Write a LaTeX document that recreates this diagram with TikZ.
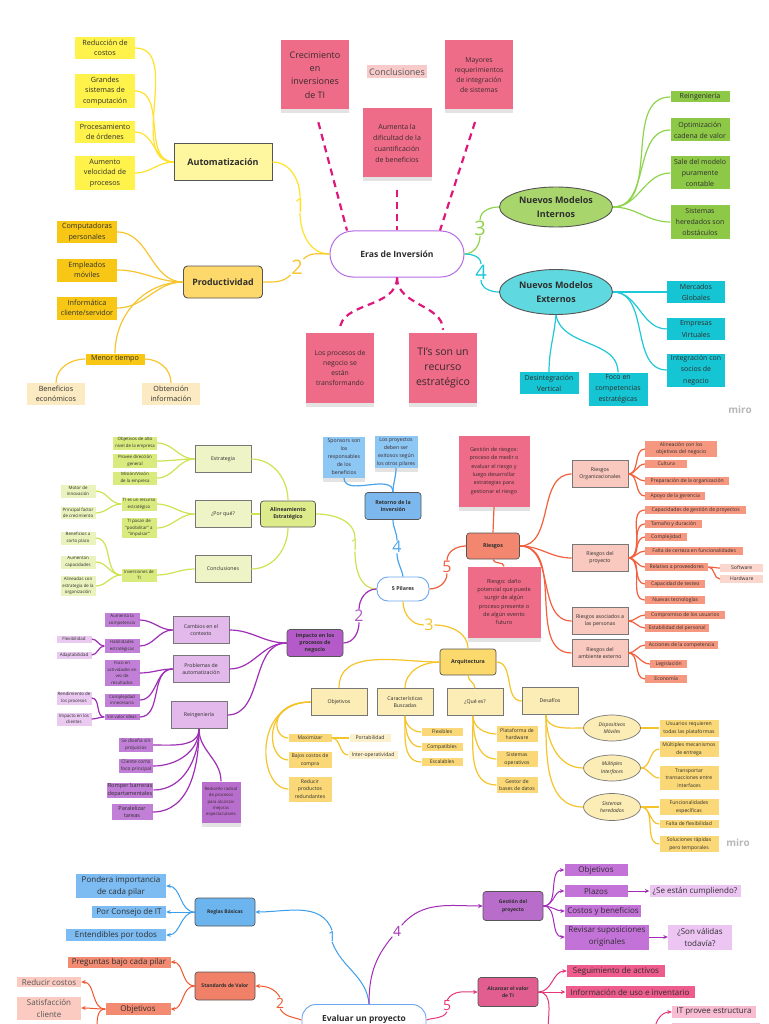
\documentclass[tikz,border=0pt]{standalone}
\usepackage{fontspec}
\setmainfont{Open Sans}
\usetikzlibrary{calc,shapes.geometric,arrows.meta,shadows}
\newcommand\fz[2]{\fontsize{#1}{#2}\selectfont}
\definecolor{txt}{HTML}{2E2E2E}
\definecolor{stxt}{HTML}{3A2A2E}
\definecolor{bord}{HTML}{555555}
\definecolor{Ylf}{HTML}{FFF24A}
\definecolor{Yhub}{HTML}{FFF7A0}
\definecolor{Yln}{HTML}{FFE22A}
\definecolor{Olf}{HTML}{F8C715}
\definecolor{Ohub}{HTML}{FDD86B}
\definecolor{Olt}{HTML}{FCEBC2}
\definecolor{Oln}{HTML}{F7C530}
\definecolor{Stk}{HTML}{EE6C87}
\definecolor{Dsh}{HTML}{E0177A}
\definecolor{Erab}{HTML}{B66CE6}
\definecolor{Ghub}{HTML}{A9D66C}
\definecolor{Glf}{HTML}{8DC847}
\definecolor{Gln}{HTML}{8ED44C}
\definecolor{Chub}{HTML}{5FD8DF}
\definecolor{Clf}{HTML}{16C5D3}
\definecolor{Cln}{HTML}{1EC8D6}
\definecolor{Conc}{HTML}{F9CACA}
\definecolor{Lhub}{HTML}{DDEB8B}
\definecolor{Lcat}{HTML}{EEF4C6}
\definecolor{Llf}{HTML}{D9EA7E}
\definecolor{Llt}{HTML}{EAF3BD}
\definecolor{Lln}{HTML}{CFE250}
\definecolor{Bhub}{HTML}{7CB8EE}
\definecolor{Bstk}{HTML}{8DC7F4}
\definecolor{Bln}{HTML}{49A4EE}
\definecolor{Pil}{HTML}{6BA6F0}
\definecolor{Shub}{HTML}{F2866E}
\definecolor{Scat}{HTML}{F9C8BE}
\definecolor{Slf}{HTML}{F69880}
\definecolor{Slt}{HTML}{FBD6CD}
\definecolor{Sln}{HTML}{F2603F}
\definecolor{Vhub}{HTML}{B55BC9}
\definecolor{Vcat}{HTML}{E2B9EA}
\definecolor{Vlf}{HTML}{C27FD7}
\definecolor{Vlt}{HTML}{EBCAF1}
\definecolor{Vln}{HTML}{9E2FB6}
\definecolor{Vstk}{HTML}{B86ECD}
\definecolor{Ahub}{HTML}{FBD96C}
\definecolor{Acat}{HTML}{FCECB5}
\definecolor{Alf}{HTML}{FAD877}
\definecolor{Alt}{HTML}{FDF0CC}
\definecolor{Aln}{HTML}{F5C42A}
\definecolor{Rhub}{HTML}{6BB4EE}
\definecolor{Rlf}{HTML}{7DBCF2}
\definecolor{Rln}{HTML}{3C9DEB}
\definecolor{Thub}{HTML}{F08068}
\definecolor{Tlf}{HTML}{F38B72}
\definecolor{Tlt}{HTML}{FBCBC1}
\definecolor{Tln}{HTML}{F0572E}
\definecolor{Mhub}{HTML}{B86DCB}
\definecolor{Mlf}{HTML}{C372D8}
\definecolor{Mlt}{HTML}{ECC5F3}
\definecolor{Mln}{HTML}{A22BB8}
\definecolor{Khub}{HTML}{E25E90}
\definecolor{Klf}{HTML}{EE5C8E}
\definecolor{Klt}{HTML}{F8BCD3}
\definecolor{Kln}{HTML}{E5357A}
\begin{document}
\begin{tikzpicture}[x=1pt,y=-1pt,
  every node/.style={align=center, inner sep=1pt, text=txt},
  sq/.style={rectangle, fill=#1},
  hub/.style={rectangle, rounded corners=3pt, draw=bord, line width=.7pt, fill=#1, font=\bfseries\fz{5.3}{6.8}},
  cat/.style={rectangle, draw=bord!80, line width=.6pt, fill=#1, minimum width=56, minimum height=27, font=\fz{5.2}{6.8}},
  lnk/.style={draw=#1, line width=1.2pt},
  alnk/.style={draw=#1, line width=1pt, -{Stealth[length=4.5pt,width=4pt]}},
  num/.style={text=#1, inner sep=0.5pt},
  sticky/.style={rectangle, fill=#1, text=stxt, drop shadow={opacity=0.22, shadow xshift=0pt, shadow yshift=-4pt}},
  dsh/.style={draw=Dsh, line width=2.2pt, dash pattern=on 7pt off 5pt},
]
\useasboundingbox (0,0) rectangle (768,1024);
\clip (0,0) rectangle (768,1024);
\fill[white] (0,0) rectangle (768,1024);

%% ================= Section 1
\node[rectangle, draw=bord, line width=.9pt, fill=Yhub, minimum width=98, minimum height=37, font=\bfseries\fz{9}{11}] (auto) at (223,162) {Automatización};
\node[rectangle, rounded corners=4pt, draw=bord, line width=.9pt, fill=Ohub, minimum width=79, minimum height=32, font=\bfseries\fz{8.8}{11}] (prod) at (223,282) {Productividad};
\node[rectangle, rounded corners=23pt, draw=Erab, line width=1pt, fill=white, minimum width=134, minimum height=46, font=\bfseries\fz{8.6}{11}] (eras) at (397,254) {Eras de Inversión};
\node[ellipse, draw=bord, line width=.9pt, fill=Ghub, minimum width=113, minimum height=40, inner sep=0pt, font=\bfseries\fz{9}{13.5}] (nmi) at (556,207) {Nuevos Modelos\\Internos};
\node[ellipse, draw=bord, line width=.9pt, fill=Chub, minimum width=113, minimum height=45, inner sep=0pt, font=\bfseries\fz{9}{13.5}] (nme) at (556,292) {Nuevos Modelos\\Externos};

\begin{scope}[every node/.append style={sq=Ylf, minimum width=60, font=\fz{7.2}{10.5}}]
\node[minimum height=22] (ya) at (105,48) {Reducción de\\costos};
\node[minimum height=34] (yb) at (105,91) {Grandes\\sistemas de\\computación};
\node[minimum height=22] (yc) at (105,132) {Procesamiento\\de órdenes};
\node[minimum height=34] (yd) at (105,173) {Aumento\\velocidad de\\procesos};
\end{scope}
\begin{scope}[every node/.append style={minimum width=60, font=\fz{7.2}{10.5}}]
\node[sq=Olf, minimum height=22] (pa) at (87,232) {Computadoras\\personales};
\node[sq=Olf, minimum height=23] (pb) at (87,270) {Empleados\\móviles};
\node[sq=Olf, minimum height=23] (pc) at (87,308) {Informática\\cliente/servidor};
\node[sq=Olf, minimum height=11, minimum width=59] (mt) at (115,359) {Menor tiempo};
\node[sq=Olt, minimum height=22, minimum width=58] (pd) at (56,394) {Beneficios\\económicos};
\node[sq=Olt, minimum height=22, minimum width=58] (pe) at (171,394) {Obtención\\información};
\end{scope}
\begin{scope}[every node/.append style={font=\fz{7}{11.2}}]
\node[sq=Glf, minimum width=59, minimum height=11] (ga) at (700,97) {Reingeniería};
\node[sq=Glf, minimum width=59, minimum height=23] (gb) at (700,130) {Optimización\\cadena de valor};
\node[sq=Glf, minimum width=59, minimum height=33] (gc) at (700,173) {Sale del modelo\\puramente\\contable};
\node[sq=Glf, minimum width=59, minimum height=34] (gd) at (700,222) {Sistemas\\heredados son\\obstáculos};
\node[sq=Clf, minimum width=58, minimum height=22] (ca) at (696,292) {Mercados\\Globales};
\node[sq=Clf, minimum width=58, minimum height=22] (cb) at (696,329) {Empresas\\Virtuales};
\node[sq=Clf, minimum width=58, minimum height=33] (cc) at (696,370) {Integración con\\socios de\\negocio};
\node[sq=Clf, minimum width=59, minimum height=22] (cd) at (549,383) {Desintegración\\Vertical};
\node[sq=Clf, minimum width=59, minimum height=33] (ce) at (618,389) {Foco en\\competencias\\estratégicas};
\end{scope}

\node[sticky=Stk, minimum width=68, minimum height=69, font=\fz{9}{13.3}] (s1) at (315,75) {Crecimiento\\en\\inversiones\\de TI};
\node[sq=Conc, text=bord, minimum width=60, minimum height=13, font=\fz{9}{11}] (concl) at (397,72) {Conclusiones};
\node[sticky=Stk, minimum width=68, minimum height=69, font=\fz{6.8}{10}] (s2) at (479,75) {Mayores\\requerimientos\\de integración\\de sistemas};
\node[sticky=Stk, minimum width=69, minimum height=69, font=\fz{7}{11}] (s3) at (397,143) {Aumenta la\\dificultad de la\\cuantificación\\de beneficios};
\node[sticky=Stk, minimum width=68, minimum height=70, font=\fz{6.8}{10}] (s4) at (340,368) {Los procesos de\\negocio se\\están\\transformando};
\node[sticky=Stk, minimum width=68, minimum height=70, font=\fz{10.5}{15}] (s5) at (443,368) {TI's son un\\recurso\\estratégico};

\node[num=Yln, font=\fz{20}{20}] (n1) at (300,205) {1};
\node[num=Oln, font=\fz{20}{20}] (n2) at (297,267) {2};
\node[num=Gln, font=\fz{20}{20}] (n3) at (480,228) {3};
\node[num=Cln, font=\fz{20}{20}] (n4) at (481,272) {4};
\node[text=black!28, font=\bfseries\fz{10}{12}] (miroa) at (740,410) {miro};

\foreach \n in {ya,yb,yc,yd} \draw[lnk=Yln] (auto.west) to[out=180,in=0] (\n.east);
\draw[lnk=Yln] (auto.east) to[out=0,in=90] (n1.north);
\draw[lnk=Yln] (n1.south) to[out=-90,in=180] (eras.west);
\foreach \n in {pa,pb,pc} \draw[lnk=Oln] (prod.west) to[out=180,in=0] (\n.east);
\draw[lnk=Oln] (prod.west) to[out=180,in=90] (mt.north);
\draw[lnk=Oln] (mt.west) to[out=180,in=90] (pd.north);
\draw[lnk=Oln] (mt.east) to[out=0,in=90] (pe.north);
\draw[lnk=Oln] (eras.west) to[out=180,in=45] (n2.north east);
\draw[lnk=Oln] (n2.south west) to[out=225,in=0] (prod.east);
\draw[lnk=Gln] (eras.east) to[out=0,in=-90] (n3.south);
\draw[lnk=Gln] (n3.north) to[out=90,in=180] (nmi.west);
\draw[lnk=Cln] (eras.east) to[out=0,in=90] (n4.north);
\draw[lnk=Cln] (n4.south) to[out=-90,in=180] (nme.west);
\foreach \n in {ga,gb,gc,gd} \draw[lnk=Gln] (nmi.east) to[out=0,in=180] (\n.west);
\foreach \n in {ca,cb,cc} \draw[lnk=Cln] (nme.east) to[out=0,in=180] (\n.west);
\draw[lnk=Cln] (nme.south) to[out=-95,in=90] (cd.north);
\draw[lnk=Cln] (nme.south) to[out=-80,in=90] (ce.north);

\draw[dsh, shorten <=13pt] (s1.south) -- ($(eras.north)+(-50,0)$);
\draw[dsh, shorten <=12pt] (s3.south) -- (eras.north);
\draw[dsh, shorten <=13pt] (s2.south) -- ($(eras.north)+(43,0)$);
\draw[dsh, shorten >=3pt] (eras.south) to[out=-90,in=90] (s4.north);
\draw[dsh, shorten >=3pt] (eras.south) to[out=-90,in=90] (s5.north);

%% ================= Section 2
\node[rectangle, rounded corners=11pt, draw=Pil, line width=.9pt, fill=white, minimum width=52, minimum height=24, font=\bfseries\fz{5.3}{6.5}] (pil) at (403,589) {5 Pilares};
\node[hub=Lhub, minimum width=55, minimum height=26] (ali) at (288,514) {Alineamiento\\Estratégico};
\node[hub=Bhub, minimum width=56, minimum height=27] (ret) at (393,506) {Retorno de la\\Inversión};
\node[hub=Shub, minimum width=53, minimum height=26] (rie) at (493,546) {Riesgos};
\node[hub=Vhub, minimum width=56, minimum height=27] (imp) at (315,643) {Impacto en los\\procesos de\\negocio};
\node[hub=Ahub, minimum width=56, minimum height=26] (arq) at (468,662) {Arquitectura};

\node[num=Lln, font=\fz{16}{16}] (m1) at (355,545) {1};
\node[num=Vln!80, font=\fz{16}{16}] (m2) at (359,616) {2};
\node[num=Aln, font=\fz{16}{16}] (m3) at (429,625) {3};
\node[num=Bln, font=\fz{16}{16}] (m4) at (397,547) {4};
\node[num=Sln, font=\fz{16}{16}] (m5) at (447,567) {5};

\draw[lnk=Lln] (pil.west) to[out=180,in=-90] (m1.south);
\draw[lnk=Lln] (m1.north) to[out=90,in=0] (ali.east);
\draw[lnk=Vln] (pil.west) to[out=180,in=90] (m2.north);
\draw[lnk=Vln] (m2.south) to[out=-90,in=0] (imp.east);
\draw[lnk=Aln] (pil.south) to[out=-90,in=180] (m3.west);
\draw[lnk=Aln] (m3.east) to[out=0,in=90] (arq.north);
\draw[lnk=Bln] (pil.north) to[out=100,in=-90] (m4.south);
\draw[lnk=Bln] (m4.north) to[out=90,in=-90] (ret.south);
\draw[lnk=Sln] (pil.east) to[out=0,in=-90] (m5.south);
\draw[lnk=Sln] (m5.north) to[out=90,in=180] (rie.west);

% Alineamiento
\node[cat=Lcat] (est) at (223,459) {Estrategia};
\node[cat=Lcat] (por) at (223,514) {¿Por qué?};
\node[cat=Lcat] (con) at (223,569) {Conclusiones};
\begin{scope}[every node/.append style={font=\fz{4.4}{6.4}}]
\node[sq=Llf, minimum width=44, minimum height=13] (la) at (135,443) {Objetivos de alto\\nivel de la empresa};
\node[sq=Llf, minimum width=44, minimum height=14] (lb) at (135,461) {Provee dirección\\general};
\node[sq=Llf, minimum width=44, minimum height=13] (lc) at (135,478) {Misión/Visión\\de la empresa};
\node[sq=Llf, minimum width=35, minimum height=13] (ld) at (139,504) {TI es un recurso\\estratégico};
\node[sq=Llf, minimum width=35, minimum height=20] (le) at (139,528) {TI pasan de\\``posibilitar'' a\\``impulsar''};
\node[sq=Llt, minimum width=35, minimum height=13] (lf) at (78,491) {Motor de\\innovación};
\node[sq=Llt, minimum width=35, minimum height=12] (lg) at (78,513) {Principal factor\\de crecimiento};
\node[sq=Llf, minimum width=35, minimum height=13] (lh) at (139,575) {Inversiones de\\TI};
\node[sq=Llt, minimum width=35, minimum height=13] (li) at (78,538) {Beneficios a\\corto plazo};
\node[sq=Llt, minimum width=35, minimum height=13] (lj) at (78,562) {Aumentan\\capacidades};
\node[sq=Llt, minimum width=35, minimum height=20] (lk) at (78,586) {Alineadas con\\estrategia de la\\organización};
\end{scope}
\draw[lnk=Lln] (ali.north) to[out=90,in=0] (est.east);
\draw[lnk=Lln] (ali.west) -- (por.east);
\draw[lnk=Lln] (ali.south) to[out=-90,in=0] (con.east);
\foreach \n in {la,lb,lc} \draw[lnk=Lln] (est.west) to[out=180,in=0] (\n.east);
\foreach \n in {ld,le} \draw[lnk=Lln] (por.west) to[out=180,in=0] (\n.east);
\foreach \n in {lf,lg} \draw[lnk=Lln] (ld.west) to[out=180,in=0] (\n.east);
\draw[lnk=Lln] (con.west) to[out=180,in=0] (lh.east);
\foreach \n in {li,lj,lk} \draw[lnk=Lln] (lh.west) to[out=180,in=0] (\n.east);

% Impacto
\node[cat=Vcat] (ia) at (201,630) {Cambios en el\\contexto};
\node[cat=Vcat] (ib) at (201,669) {Problemas de\\automatización};
\node[cat=Vcat] (ic) at (199,715) {Reingeniería};
\begin{scope}[every node/.append style={font=\fz{4.4}{6.4}}]
\node[sq=Vlf, minimum width=35, minimum height=14] (ja) at (122,620) {Aumenta la\\competencia};
\node[sq=Vlf, minimum width=35, minimum height=14] (jb) at (122,646) {Habilidades\\estratégicas};
\node[sq=Vlt, minimum width=35, minimum height=7] (jc) at (74,639) {Flexibilidad};
\node[sq=Vlt, minimum width=35, minimum height=7] (jd) at (74,655) {Adaptabilidad};
\node[sq=Vlf, minimum width=35, minimum height=26] (je) at (122,673) {Foco en\\actividades en\\vez de\\resultados};
\node[sq=Vlf, minimum width=35, minimum height=13] (jf) at (122,700) {Complejidad\\innecesaria};
\node[sq=Vlf, minimum width=35, minimum height=6] (jg) at (122,717) {Sin valor ideas};
\node[sq=Vlt, minimum width=35, minimum height=13] (jh) at (74,698) {Rendimiento de\\los procesos};
\node[sq=Vlt, minimum width=35, minimum height=13] (ji) at (74,719) {Impacto en los\\clientes};
\node[sq=Vlf, minimum width=34, minimum height=13, font=\fz{4.8}{6.6}] (jj) at (136,745) {Se diseña sin\\prejuicios};
\node[sq=Vlf, minimum width=34, minimum height=13, font=\fz{4.8}{6.6}] (jk) at (136,766) {Cliente como\\foco principal};
\node[sq=Vlf, minimum width=45, minimum height=14, font=\fz{5.6}{7.4}] (jl) at (130,790) {Romper barreras\\departamentales};
\node[sq=Vlf, minimum width=41, minimum height=16, font=\fz{5.6}{7.4}] (jm) at (132,812) {Paralelizar\\tareas};
\node[sticky=Vstk, minimum width=39, minimum height=41, font=\fz{4.3}{6.4}] (js) at (221,802) {Rediseño radical\\de procesos\\para alcanzar\\mejoras\\espectaculares};
\end{scope}
\foreach \n in {ia,ib,ic} \draw[lnk=Vln] (imp.west) to[out=180,in=0] (\n.east);
\foreach \n in {ja,jb} \draw[lnk=Vln] (ia.west) to[out=180,in=0] (\n.east);
\foreach \n in {jc,jd} \draw[lnk=Vln] (jb.west) to[out=180,in=0] (\n.east);
\foreach \n in {je,jf,jg} \draw[lnk=Vln] (ib.west) to[out=180,in=0] (\n.east);
\foreach \n in {jh,ji} \draw[lnk=Vln] (jg.west) to[out=180,in=0] (\n.east);
\foreach \n in {jj,jk,jl,jm} \draw[lnk=Vln] (ic.south) to[out=-90,in=0] (\n.east);
\draw[lnk=Vln] (ic.south) to[out=-90,in=90] (js.north);

% Retorno
\node[sticky=Bstk, minimum width=42, minimum height=41, font=\fz{5.2}{8}] (ba) at (344,457) {Sponsors son\\los\\responsables\\de los\\beneficios};
\node[sticky=Bstk, minimum width=43, minimum height=32, font=\fz{5.2}{8}] (bb) at (396,452) {Los proyectos\\deben ser\\exitosos según\\los otros pilares};
\draw[lnk=Bln] (ret.north) to[out=90,in=-90] (ba.south);
\draw[lnk=Bln] (ret.north) to[out=90,in=-90] (bb.south);

% Riesgos
\node[sticky=Stk, minimum width=71, minimum height=71, font=\fz{5.4}{8.3}] (ra) at (494,471) {Gestión de riesgos:\\proceso de medir o\\evaluar el riesgo y\\luego desarrollar\\estrategias para\\gestionar el riesgo};
\node[sticky=Stk, minimum width=73, minimum height=71, font=\fz{5.6}{8.3}] (rb) at (504,602) {Riesgo: daño\\potencial que puede\\surgir de algún\\proceso presente o\\de algún evento\\futuro};
\draw[lnk=Sln] (rie.north) -- (ra.south);
\draw[lnk=Sln] (rie.south) to[out=-90,in=90] (rb.north);
\node[cat=Scat] (rc1) at (600,474) {Riesgos\\Organizacionales};
\node[cat=Scat] (rc2) at (600,558) {Riesgos del\\proyecto};
\node[cat=Scat] (rc3) at (600,621) {Riesgos asociados a\\las personas};
\node[cat=Scat] (rc4) at (600,653) {Riesgos del\\ambiente externo};
\foreach \n in {rc1,rc2,rc3,rc4} \draw[lnk=Sln] (rie.east) to[out=0,in=180] (\n.west);
\begin{scope}[every node/.append style={sq=Slf, anchor=west, minimum height=8, font=\fz{5.1}{7}}]
\node[minimum width=72, minimum height=16] (r1) at (645,449) {Alineación con los\\objetivos del negocio};
\node[minimum width=42] (r2) at (645,464) {Cultura};
\node[minimum width=84] (r3) at (645,481) {Preparación de la organización};
\node[minimum width=60] (r4) at (645,496) {Apoyo de la gerencia};
\node[minimum width=101] (r5) at (645,510) {Capacidades de gestión de proyectos};
\node[minimum width=57] (r6) at (645,524) {Tamaño y duración};
\node[minimum width=42] (r7) at (645,537) {Complejidad};
\node[minimum width=98] (r8) at (645,551) {Falta de certeza en funcionalidades};
\node[minimum width=63] (r9) at (645,567) {Relativo a proveedores};
\node[minimum width=60] (r10) at (645,584) {Capacidad de testeo};
\node[minimum width=60] (r11) at (645,600) {Nuevas tecnologías};
\node[minimum width=80] (r12) at (645,615) {Compromiso de los usuarios};
\node[minimum width=64] (r13) at (645,628) {Estabilidad del personal};
\node[minimum width=73] (r14) at (645,645) {Acciones de la competencia};
\node[minimum width=37] (r15) at (650,664) {Legislación};
\node[minimum width=42] (r16) at (645,679) {Economía};
\node[sq=Slt, minimum width=43] (r17) at (720,568) {Software};
\node[sq=Slt, minimum width=43] (r18) at (720,579) {Hardware};
\end{scope}
\foreach \n in {r1,r2,r3,r4} \draw[lnk=Sln] (rc1.east) to[out=0,in=180] (\n.west);
\foreach \n in {r5,r6,r7,r8,r9,r10,r11} \draw[lnk=Sln] (rc2.east) to[out=0,in=180] (\n.west);
\foreach \n in {r12,r13} \draw[lnk=Sln] (rc3.east) to[out=0,in=180] (\n.west);
\foreach \n in {r14,r15,r16} \draw[lnk=Sln] (rc4.east) to[out=0,in=180] (\n.west);
\foreach \n in {r17,r18} \draw[lnk=Sln] (r9.east) to[out=0,in=180] (\n.west);

% Arquitectura
\node[cat=Acat] (a1) at (339,702) {Objetivos};
\node[cat=Acat] (a2) at (405,702) {Características\\Buscadas};
\node[cat=Acat] (a3) at (475,702) {¿Qué es?};
\node[cat=Acat] (a4) at (550,701) {Desafíos};
\draw[lnk=Aln] (arq.west) to[out=180,in=90] (a1.north);
\draw[lnk=Aln] (arq.west) to[out=180,in=90] (a2.north);
\draw[lnk=Aln] (arq.south) to[out=-90,in=90] (a3.north);
\draw[lnk=Aln] (arq.east) to[out=0,in=180] (a4.west);
\begin{scope}[every node/.append style={font=\fz{5.1}{7.6}}]
\node[sq=Alf, minimum width=43, minimum height=8] (k1) at (310,738) {Maximizar};
\node[sq=Alf, minimum width=43, minimum height=16] (k2) at (310,760) {Bajos costos de\\compra};
\node[sq=Alf, minimum width=43, minimum height=25] (k3) at (310,789) {Reducir\\productos\\redundantes};
\node[sq=Alt, minimum width=41, minimum height=8] (k4) at (370,738) {Portabilidad};
\node[sq=Alt, minimum width=49, minimum height=8] (k5) at (373,755) {Inter-operatividad};
\node[sq=Alf, minimum width=41, minimum height=8] (k6) at (442,732) {Flexibles};
\node[sq=Alf, minimum width=41, minimum height=8] (k7) at (442,747) {Compatibles};
\node[sq=Alf, minimum width=41, minimum height=8] (k8) at (442,762) {Escalables};
\node[sq=Alf, minimum width=41, minimum height=16] (k9) at (517,734) {Plataforma de\\hardware};
\node[sq=Alf, minimum width=41, minimum height=16] (k10) at (517,759) {Sistemas\\operativos};
\node[sq=Alf, minimum width=41, minimum height=16] (k11) at (517,785) {Gestor de\\bases de datos};
\node[ellipse, draw=bord!80, line width=.7pt, fill=Acat, minimum width=57, minimum height=26, inner sep=0pt, font=\itshape\fz{5.1}{7.4}] (e1) at (612,728) {Dispositivos\\Móviles};
\node[ellipse, draw=bord!80, line width=.7pt, fill=Acat, minimum width=57, minimum height=26, inner sep=0pt, font=\itshape\fz{5.1}{7.4}] (e2) at (612,768) {Múltiples\\Interfaces};
\node[ellipse, draw=bord!80, line width=.7pt, fill=Acat, minimum width=57, minimum height=27, inner sep=0pt, font=\itshape\fz{5.1}{7.4}] (e3) at (612,807) {Sistemas\\heredados};
\node[sq=Alf, minimum width=59, minimum height=17] (f1) at (689,728) {Usuarios requieren\\todas las plataformas};
\node[sq=Alf, minimum width=59, minimum height=16] (f2) at (689,749) {Múltiples mecanismos\\de entrega};
\node[sq=Alf, minimum width=59, minimum height=24] (f3) at (689,778) {Transportar\\transacciones entre\\interfaces};
\node[sq=Alf, minimum width=59, minimum height=16] (f4) at (689,807) {Funcionalidades\\específicas};
\node[sq=Alf, minimum width=59, minimum height=8] (f5) at (689,824) {Falta de flexibilidad};
\node[sq=Alf, minimum width=59, minimum height=16] (f6) at (689,844) {Soluciones rápidas\\pero temporales};
\end{scope}
\draw[lnk=Aln] (a1.west) .. controls (268,702) and (272,738) .. (k1.west);
\draw[lnk=Aln] (a1.west) .. controls (262,702) and (266,760) .. (k2.west);
\draw[lnk=Aln] (a1.west) .. controls (252,702) and (258,789) .. (k3.west);
\foreach \n in {k4,k5} \draw[lnk=Aln] (k1.east) to[out=0,in=180] (\n.west);
\foreach \n in {k6,k7,k8} \draw[lnk=Aln] (a2.south) to[out=-90,in=180] (\n.west);
\foreach \n in {k9,k10,k11} \draw[lnk=Aln] ($(a3.south)+(-2,0)$) to[out=-90,in=180] (\n.west);
\foreach \n in {e1,e2,e3} \draw[lnk=Aln] ($(a4.south)+(-4,0)$) to[out=-90,in=180] (\n.west);
\draw[lnk=Aln] (e1.east) -- (f1.west);
\foreach \n in {f2,f3} \draw[lnk=Aln] (e2.east) to[out=0,in=180] (\n.west);
\foreach \n in {f4,f5,f6} \draw[lnk=Aln] (e3.east) to[out=0,in=180] (\n.west);
\node[text=black!28, font=\bfseries\fz{10}{12}] (mirob) at (738,843) {miro};

%% ================= Section 3
\node[rectangle, rounded corners=14pt, draw=Pil, line width=.9pt, fill=white, minimum width=124, inner ysep=11pt, text depth=30pt, anchor=north, font=\bfseries\fz{8.4}{10}] (ev) at (364,1004) {Evaluar un proyecto};
\node[hub=Rhub, minimum width=60, minimum height=28, font=\bfseries\fz{5}{6.6}] (rgb) at (225,912) {Reglas Básicas};
\node[hub=Thub, minimum width=60, minimum height=28, font=\bfseries\fz{5}{6.6}] (sv) at (225,986) {Standards de Valor};
\node[hub=Mhub, minimum width=60, minimum height=29, font=\bfseries\fz{5}{7.4}] (gp) at (513,906) {Gestión del\\proyecto};
\node[hub=Khub, minimum width=60, minimum height=29, font=\bfseries\fz{5}{7.4}] (av) at (508,992) {Alcanzar el valor\\de TI};

\begin{scope}[every node/.append style={font=\fz{8}{12}}]
\node[sq=Rlf, minimum width=90, minimum height=24] (bl1) at (121,886) {Pondera importancia\\de cada pilar};
\node[sq=Rlf, minimum width=74, minimum height=12] (bl2) at (129,912) {Por Consejo de IT};
\node[sq=Rlf, minimum width=100, minimum height=12] (bl3) at (116,935) {Entendibles por todos};
\node[sq=Tlf, minimum width=103, minimum height=11] (sl1) at (119,962) {Preguntas bajo cada pilar};
\node[sq=Tlf, minimum width=65, minimum height=12] (sl2) at (138,1009) {Objetivos};
\node[sq=Tlt, minimum width=64, minimum height=10, text=bord] (sl3) at (49,982) {Reducir costos};
\node[sq=Tlt, minimum width=64, minimum height=23, text=bord] (sl4) at (49,1008) {Satisfacción\\cliente};
\node[sq=Mlf, minimum width=63, minimum height=12] (gl1) at (596,870) {Objetivos};
\node[sq=Mlf, minimum width=63, minimum height=12] (gl2) at (596,891) {Plazos};
\node[sq=Mlf, minimum width=76, minimum height=12] (gl3) at (603,911) {Costos y beneficios};
\node[sq=Mlf, minimum width=84, minimum height=25] (gl4) at (607,937) {Revisar suposiciones\\originales};
\node[sq=Mlt, minimum width=91, minimum height=12] (gl5) at (695,891) {¿Se están cumpliendo?};
\node[sq=Mlt, minimum width=64, minimum height=25] (gl6) at (700,937) {¿Son válidas\\todavía?};
\node[sq=Klf, minimum width=98, minimum height=12] (al1) at (616,971) {Seguimiento de activos};
\node[sq=Klf, minimum width=129, minimum height=12] (al2) at (630,992) {Información de uso e inventario};
\node[sq=Klt, minimum width=84, minimum height=12] (al3) at (714,1012) {IT provee estructura};
\node[sq=Klt, minimum width=88, minimum height=12] (al4) at (716,1029) {};
\end{scope}

\node[num=Rln, font=\fz{14}{14}] (q1) at (332,936) {1};
\node[num=Tln, font=\fz{14}{14}] (q2) at (280,1003) {2};
\node[num=Mln, font=\fz{14}{14}] (q4) at (397,931) {4};
\node[num=Kln, font=\fz{14}{14}] (q5) at (447,1006) {5};

\coordinate (evtop) at ($(ev.north)+(5,0)$);
\coordinate (evleft) at ($(ev.north west)+(0,16)$);
\coordinate (evright) at ($(ev.north east)+(0,16)$);
\coordinate (objdown) at (97,1030);
\coordinate (avdown) at (548,1030);
\coordinate (itsrc) at (655,1030);

\draw[lnk=Rln, line width=1pt] (evtop) to[out=95,in=-70] (q1.south);
\draw[alnk=Rln] (q1.north) to[out=110,in=0] (rgb.east);
\draw[lnk=Mln, line width=1pt] (evtop) to[out=90,in=-130] (q4.south west);
\draw[alnk=Mln] (q4.north east) to[out=50,in=180] (gp.west);
\draw[lnk=Tln, line width=1pt] (evleft) to[out=160,in=-60] (q2.south);
\draw[alnk=Tln] (q2.north) to[out=120,in=0] (sv.east);
\draw[lnk=Kln, line width=1pt] (evright) to[out=20,in=-120] (q5.south);
\draw[alnk=Kln] (q5.north) to[out=60,in=180] (av.west);

\foreach \n in {bl1,bl2,bl3} \draw[alnk=Rln] (rgb.west) to[out=180,in=0] (\n.east);
\foreach \n in {sl1,sl2} \draw[alnk=Tln] (sv.west) to[out=180,in=0] (\n.east);
\foreach \n in {sl3,sl4} \draw[alnk=Tln] (sl2.west) to[out=180,in=0] (\n.east);
\draw[lnk=Tln, line width=1pt] (sl2.west) to[out=180,in=90] (objdown);
\foreach \n in {gl1,gl2,gl3,gl4} \draw[alnk=Mln] (gp.east) to[out=0,in=180] (\n.west);
\draw[alnk=Mln] (gl2.east) -- (gl5.west);
\draw[alnk=Mln] (gl4.east) -- (gl6.west);
\foreach \n in {al1,al2} \draw[alnk=Kln] (av.east) to[out=0,in=180] (\n.west);
\draw[lnk=Kln, line width=1pt] (av.east) to[out=0,in=90] (avdown);
\draw[alnk=Kln] (itsrc) to[out=90,in=180] (al3.west);
\end{tikzpicture}
\end{document}
